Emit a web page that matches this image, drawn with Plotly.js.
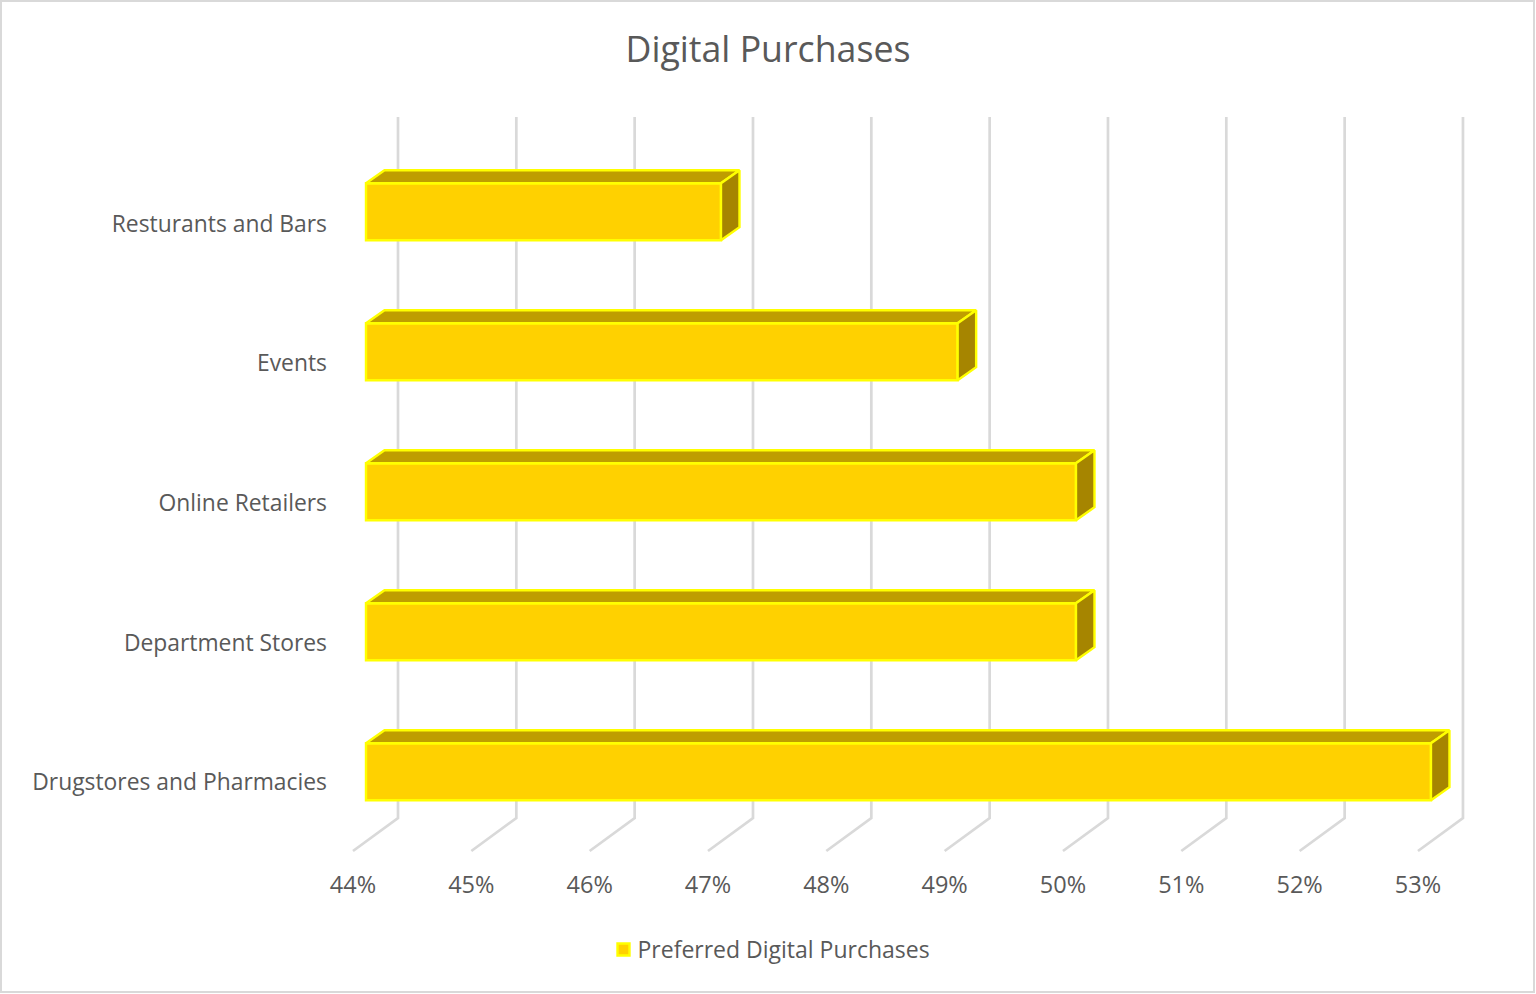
<!DOCTYPE html>
<html>
<head>
<meta charset="utf-8">
<script src="https://cdn.plot.ly/plotly-3.0.1.min.js"></script>
<style>html,body{margin:0;padding:0;background:#fff;overflow:hidden}#chart{width:1536px;height:994px}</style>
</head>
<body>
<div id="chart"></div>
<script>
// Data
const categories = ["Drugstores and Pharmacies", "Department Stores", "Online Retailers", "Events", "Resturants and Bars"];
const values = [53, 50, 50, 49, 47];
const tickValues = [44, 45, 46, 47, 48, 49, 50, 51, 52, 53];
const tickLabels = ["44%", "45%", "46%", "47%", "48%", "49%", "50%", "51%", "52%", "53%"];
const seriesName = "Preferred Digital Purchases";

// Layout geometry (px)
const W = 1536, H = 994;
const M = {l: 340, r: 60, t: 110, b: 134};
const pxPerX = 118.33, pxPerY = 140, pxPerLabel = 139.6;
const plotW = W - M.l - M.r, plotH = H - M.t - M.b;
const x44Px = 353, row0Px = 782.2;
const barX44Px = 366, barRow0Px = 771.7;
const baseX = 44;

const xRange = (origin) => [baseX + (M.l - origin) / pxPerX, baseX + (W - M.r - origin) / pxPerX];
const yRange = (origin, s) => [(origin - (H - M.b)) / s, (origin - M.t) / s];

// Depth in axis units
const barDX = 18.5 / pxPerX, barDY = 13 / pxPerY, barH = 57 / pxPerY;
const gridDX = 45 / pxPerX;
const floorFront = (row0Px - 851) / pxPerLabel, floorBack = (row0Px - 818) / pxPerLabel, wallTop = (row0Px - 117) / pxPerLabel;

// Back wall + floor gridlines
const gx = [], gy = [];
tickValues.forEach(t => {
  gx.push(t, t + gridDX, t + gridDX, null);
  gy.push(floorFront, floorBack, wallTop, null);
});

// Top and side faces of each bar
const tx = [], ty = [], sx = [], sy = [];
values.forEach((v, i) => {
  const top = i + barH / 2, bot = i - barH / 2;
  tx.push(baseX, v, v + barDX, baseX + barDX, baseX, null);
  ty.push(top, top, top + barDY, top + barDY, top, null);
  sx.push(v, v + barDX, v + barDX, v, v, null);
  sy.push(bot, bot + barDY, top + barDY, top, bot, null);
});

const edge = "#FFFF00";
const traces = [
  {type: "scatter", mode: "lines", x: gx, y: gy, xaxis: "x", yaxis: "y", showlegend: false, hoverinfo: "skip",
   line: {color: "#D9D9D9", width: 2.7}, connectgaps: false},
  {type: "bar", orientation: "h", name: seriesName, y: categories.map((c, i) => i), x: values.map(v => v - baseX), base: baseX,
   width: barH, xaxis: "x2", yaxis: "y2", marker: {color: "#FFD100", line: {color: edge, width: 2.4}}, hoverinfo: "skip"},
  {type: "scatter", mode: "lines", x: tx, y: ty, xaxis: "x2", yaxis: "y2", fill: "toself", fillcolor: "#BF9D00",
   line: {color: edge, width: 2.4}, showlegend: false, hoverinfo: "skip"},
  {type: "scatter", mode: "lines", x: sx, y: sy, xaxis: "x2", yaxis: "y2", fill: "toself", fillcolor: "#A68500",
   line: {color: edge, width: 2.4}, showlegend: false, hoverinfo: "skip"}
];

const textColor = "#595959";
const fontFamily = "'Open Sans', 'Noto Sans', sans-serif";
const layout = {
  width: W, height: H, margin: M,
  paper_bgcolor: "#fff", plot_bgcolor: "rgba(0,0,0,0)",
  font: {family: fontFamily, color: textColor, size: 23},
  title: {text: "Digital Purchases", font: {size: 35.7, color: textColor, family: fontFamily},
          x: 768 / W, xref: "container", xanchor: "center", y: 1 - 50 / H, yanchor: "middle", yref: "container"},
  barmode: "overlay",
  hovermode: false,
  xaxis: {range: xRange(x44Px), tickmode: "array", tickvals: tickValues, ticktext: tickLabels,
          showgrid: false, zeroline: false, showline: false, ticks: "", ticklabelstandoff: 8,
          tickfont: {size: 23.5, color: textColor}, fixedrange: true},
  yaxis: {range: yRange(row0Px, pxPerLabel), tickmode: "array", tickvals: categories.map((c, i) => i), ticktext: categories,
          showgrid: false, zeroline: false, showline: false, ticks: "", ticklabelstandoff: 12,
          tickfont: {size: 22.85, color: textColor}, fixedrange: true},
  xaxis2: {range: xRange(barX44Px), overlaying: "x", visible: false, fixedrange: true},
  yaxis2: {range: yRange(barRow0Px, pxPerY), overlaying: "y", visible: false, fixedrange: true},
  legend: {orientation: "h", x: 769.5 / W, xref: "container", xanchor: "center", y: 1 - 949.5 / H, yref: "container", yanchor: "middle",
           font: {size: 23, color: textColor}, bgcolor: "rgba(0,0,0,0)", indentation: -6},
  shapes: [{type: "rect", xref: "paper", yref: "paper",
            x0: (1 - M.l) / plotW, x1: (W - 2 - M.l) / plotW,
            y0: (H - M.b - (H - 2)) / plotH, y1: (H - M.b - 1) / plotH,
            line: {color: "#D9D9D9", width: 2}, fillcolor: "rgba(0,0,0,0)", layer: "below"}]
};
Plotly.newPlot("chart", traces, layout, {displayModeBar: false, staticPlot: true}).then(() => {
  // Sit the legend swatch closer to its text, as in the reference.
  document.querySelectorAll(".legend .legendpoints").forEach(g => g.setAttribute("transform", "translate(6,0)"));
});
</script>
</body>
</html>
